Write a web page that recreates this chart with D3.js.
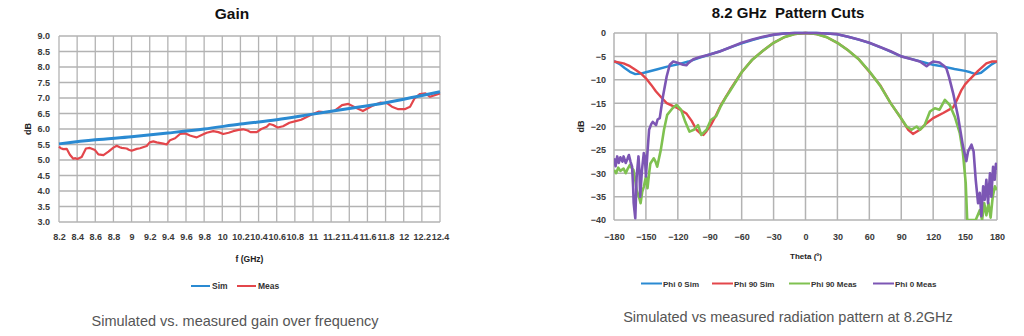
<!DOCTYPE html>
<html>
<head>
<meta charset="utf-8">
<script src="https://cdn.jsdelivr.net/npm/d3@7"></script>
<style>
  html, body { margin: 0; padding: 0; background: #fff; }
  svg { display: block; }
  text { font-family: "Liberation Sans", Arial, sans-serif; }
</style>
</head>
<body>
<svg id="chart" width="1024" height="336"></svg>
<script>
// ---------- Gain vs frequency ----------
const gainXTicks = ["8.2","8.4","8.6","8.8","9","9.2","9.4","9.6","9.8","10","10.2","10.4","10.6","10.8","11","11.2","11.4","11.6","11.8","12","12.2","12.4"];
const gainYTicks = ["3.0","3.5","4.0","4.5","5.0","5.5","6.0","6.5","7.0","7.5","8.0","8.5","9.0"];

const simFreq = [8.2, 8.6, 9.0, 9.4, 9.8, 10.2, 10.6, 11.0, 11.4, 11.8, 12.0, 12.4];
const simGain = [5.52, 5.65, 5.75, 5.87, 6.0, 6.16, 6.3, 6.48, 6.66, 6.85, 6.96, 7.2];

const measFreq = [8.2, 8.22, 8.248, 8.285, 8.32, 8.358, 8.38, 8.402, 8.45, 8.497, 8.54, 8.597, 8.634, 8.69, 8.745, 8.8, 8.836, 8.87, 8.891, 8.946, 8.97, 9.0, 9.057, 9.093, 9.167, 9.2, 9.24, 9.277, 9.35, 9.387, 9.424, 9.48, 9.534, 9.589, 9.644, 9.68, 9.718, 9.773, 9.828, 9.9, 9.957, 10.01, 10.07, 10.12, 10.18, 10.23, 10.28, 10.31, 10.38, 10.43, 10.49, 10.52, 10.56, 10.61, 10.67, 10.74, 10.82, 10.87, 10.93, 10.98, 11.06, 11.15, 11.24, 11.32, 11.39, 11.46, 11.55, 11.65, 11.74, 11.82, 11.87, 11.94, 12.01, 12.07, 12.12, 12.18, 12.24, 12.29, 12.35, 12.4];
const measGain = [5.43, 5.38, 5.35, 5.36, 5.17, 5.04, 5.06, 5.03, 5.10, 5.37, 5.39, 5.32, 5.18, 5.16, 5.27, 5.40, 5.46, 5.41, 5.39, 5.37, 5.33, 5.30, 5.36, 5.38, 5.45, 5.57, 5.60, 5.57, 5.53, 5.50, 5.64, 5.70, 5.84, 5.86, 5.79, 5.76, 5.73, 5.81, 5.88, 5.93, 5.90, 5.84, 5.88, 5.93, 5.97, 5.99, 5.95, 5.90, 5.90, 6.00, 6.07, 6.16, 6.13, 6.05, 6.09, 6.20, 6.26, 6.30, 6.39, 6.46, 6.56, 6.54, 6.59, 6.77, 6.81, 6.70, 6.58, 6.74, 6.85, 6.83, 6.72, 6.64, 6.64, 6.72, 6.99, 7.13, 7.15, 7.04, 7.10, 7.15];

// ---------- 8.2 GHz pattern cuts ----------
const thetaTicks = [-180, -150, -120, -90, -60, -30, 0, 30, 60, 90, 120, 150, 180];
const patternYTicks = [0, -5, -10, -15, -20, -25, -30, -35, -40];

const phi0SimTheta = [-180, -175, -170, -165, -160, -155, -150, -140, -130, -120, -110, -100, -90, -80, -70, -60, -50, -40, -30, -20, -10, 0, 10, 20, 30, 40, 50, 60, 70, 80, 90, 100, 110, 120, 130, 140, 150, 155, 160, 165, 170, 175, 180];
const phi0SimDb = [-6.0, -6.6, -7.5, -8.3, -8.8, -8.7, -8.4, -7.8, -7.2, -6.7, -6.1, -5.3, -4.6, -3.9, -3.0, -2.2, -1.5, -0.9, -0.4, -0.1, 0, 0, 0, -0.1, -0.3, -0.8, -1.4, -2.1, -3.0, -4.0, -5.0, -5.6, -6.2, -6.8, -7.2, -7.7, -8.1, -8.4, -8.8, -8.5, -7.6, -6.7, -6.1];

const phi90SimTheta = [-180, -171, -165, -161.7, -155, -150, -145, -140.5, -135, -130.5, -125, -120, -112, -107, -102.5, -98, -96, -93, -89, -85, -80, -71, -60, -50, -40, -30, -20, -10, 0, 10, 20, 30, 40, 50, 60, 70, 80, 90, 96.6, 101, 107.5, 113.8, 120, 129.4, 138.8, 142, 146.6, 150, 154.4, 162.2, 170, 175, 180];
const phi90SimDb = [-6.1, -6.5, -7.1, -7.6, -8.6, -9.7, -11.1, -12.5, -13.9, -15.0, -15.6, -16.1, -17.2, -18.8, -20.7, -21.6, -21.8, -21.0, -19.7, -18.0, -15.6, -12.2, -8.4, -5.7, -3.8, -2.1, -0.9, -0.2, 0, -0.2, -0.9, -2.1, -3.7, -5.6, -8.3, -11.1, -15.0, -18.3, -20.7, -21.6, -20.7, -19.3, -18.2, -17.1, -15.9, -14.5, -12.2, -11.0, -9.9, -8.1, -6.5, -6.1, -6.1];

const phi90MeasTheta = [-180, -178, -176, -174, -171, -169, -167, -165, -163, -161.7, -160, -158.7, -156, -155, -153.5, -152, -150, -148.5, -147, -145.8, -142.6, -141, -139.4, -136, -133, -130, -125, -121.3, -117, -113, -109, -105, -101, -98, -93, -89, -84, -80, -75, -71, -60, -50, -40, -30, -20, -10, 0, 10, 20, 30, 40, 50, 60, 70, 80, 90, 95, 99.7, 104.4, 107.5, 112, 117, 121.6, 126, 131, 135.6, 140.3, 145, 148, 150.6, 152, 156, 160, 163.8, 166, 168, 170, 172, 174, 176, 178, 180];
const phi90MeasDb = [-29.3, -30.0, -28.8, -29.5, -29.0, -30.0, -29.0, -28.2, -29.0, -29.3, -31.5, -33.6, -35.5, -36.4, -34.0, -32.9, -30.7, -33.2, -30.0, -27.9, -26.8, -27.5, -28.6, -25.0, -20.7, -17.5, -16.1, -15.4, -16.4, -19.0, -21.1, -20.7, -19.7, -21.8, -20.7, -18.6, -17.8, -15.8, -13.8, -12.4, -8.4, -5.7, -3.8, -2.1, -0.9, -0.2, 0, -0.2, -0.9, -2.1, -3.7, -5.6, -8.2, -11.2, -15.0, -18.3, -20.0, -20.7, -20.0, -20.7, -19.7, -16.8, -16.1, -16.4, -14.3, -15.4, -17.9, -21.4, -25.7, -32.1, -40.0, -40.0, -40.0, -37.9, -40.0, -36.4, -39.0, -36.4, -39.5, -35.0, -32.8, -33.6];

const phi0MeasTheta = [-180, -178.5, -177, -175.5, -174, -172, -171, -169, -167.5, -166, -164.5, -163, -162, -161.5, -160, -158.7, -157, -156, -155.4, -153.7, -152, -151, -150, -148.5, -147, -145, -143.6, -140.5, -139, -137, -134, -130.5, -127.6, -124.3, -119.6, -115, -112, -110, -105.5, -100, -90, -80, -70, -60, -50, -40, -30, -20, -10, 0, 10, 20, 30, 40, 50, 60, 70, 80, 90, 100, 107.5, 113.8, 117, 120, 126, 130, 132.5, 135, 138.8, 143.4, 148, 151.2, 152.8, 156, 158, 160, 162.2, 163.8, 165.3, 167, 168.4, 170, 171.6, 173.4, 174.7, 176.3, 177.8, 179, 180];
const phi0MeasDb = [-26.8, -28.5, -26.4, -27.8, -26.6, -27.5, -26.4, -27.8, -27.0, -26.1, -27.5, -28.6, -33.0, -36.4, -39.6, -30.7, -26.4, -30.0, -35.0, -29.3, -25.7, -26.4, -30.7, -25.4, -20.7, -19.5, -19.0, -19.7, -18.5, -18.2, -13.6, -9.3, -6.8, -6.1, -6.4, -6.8, -6.9, -6.4, -5.6, -5.2, -4.6, -3.9, -3.0, -2.1, -1.4, -0.8, -0.35, -0.1, 0, 0, 0, -0.1, -0.25, -0.8, -1.4, -2.1, -3.0, -3.9, -5.0, -5.6, -6.1, -7.1, -6.5, -6.1, -6.3, -7.0, -7.6, -9.5, -12.9, -17.9, -24.2, -27.4, -25.3, -23.9, -25.3, -31.4, -36.4, -34.2, -39.2, -32.8, -35.7, -31.4, -36.4, -30.0, -35.0, -28.6, -31.4, -28.0, -29.3];

const colors = { sim: "#2a8ad2", meas: "#e3464b", green: "#7fc150", purple: "#7c56b4" };

const svg = d3.select("#chart");
const gridColor = "#b3b3b3";
const tickFill = "#3a3a3a";

// ===== Left chart: Gain =====
const L = { x0: 59, x1: 440, y0: 36, y1: 222 };
const gx = d3.scaleLinear().domain([8.2, 12.4]).range([L.x0, L.x1]);
const gy = d3.scaleLinear().domain([3, 9]).range([L.y1, L.y0]);
const gLeft = svg.append("g");

// grid
gLeft.append("g").selectAll("line").data(gainXTicks).join("line")
  .attr("x1", d => gx(+d)).attr("x2", d => gx(+d))
  .attr("y1", L.y0).attr("y2", L.y1)
  .attr("stroke", gridColor).attr("stroke-width", 1.3);
gLeft.append("g").selectAll("line").data(gainYTicks).join("line")
  .attr("x1", L.x0).attr("x2", L.x1)
  .attr("y1", d => gy(+d)).attr("y2", d => gy(+d))
  .attr("stroke", gridColor).attr("stroke-width", 1.3);

// axes (labels only)
const gAxisY = d3.axisLeft(gy).tickValues(gainYTicks.map(Number)).tickFormat(d3.format(".1f")).tickSize(0).tickPadding(9);
gLeft.append("g").attr("transform", `translate(${L.x0},0)`).call(gAxisY)
  .call(g => g.select(".domain").remove())
  .selectAll("text").attr("font-size", 9).attr("font-weight", "bold").attr("fill", tickFill)
  .attr("font-family", "Liberation Sans, Arial, sans-serif");
const gAxisX = d3.axisBottom(gx).tickValues(gainXTicks.map(Number)).tickFormat((d, i) => gainXTicks[i]).tickSize(0).tickPadding(12);
gLeft.append("g").attr("transform", `translate(0,${L.y1})`).call(gAxisX)
  .call(g => g.select(".domain").remove())
  .selectAll("text").attr("font-size", 9).attr("font-weight", "bold").attr("fill", tickFill)
  .attr("font-family", "Liberation Sans, Arial, sans-serif");

gLeft.append("text").attr("x", 232).attr("y", 19).attr("text-anchor", "middle")
  .attr("font-size", 15.5).attr("font-weight", "bold").attr("fill", "#111").text("Gain");
gLeft.append("text").attr("transform", `translate(31,${(L.y0 + L.y1) / 2}) rotate(-90)`)
  .attr("text-anchor", "middle").attr("font-size", 9).attr("font-weight", "bold").attr("fill", "#222").text("dB");
gLeft.append("text").attr("x", (L.x0 + L.x1) / 2).attr("y", 262).attr("text-anchor", "middle")
  .attr("font-size", 8.5).attr("font-weight", "bold").attr("fill", "#222").text("f (GHz)");

const gLine = d3.line().x(d => gx(d[0])).y(d => gy(d[1]));
gLeft.append("path").datum(measFreq.map((f, i) => [f, measGain[i]]))
  .attr("d", gLine).attr("fill", "none").attr("stroke", colors.meas).attr("stroke-width", 2.2).attr("stroke-linejoin", "round");
gLeft.append("path").datum(simFreq.map((f, i) => [f, simGain[i]]))
  .attr("d", gLine.curve(d3.curveMonotoneX)).attr("fill", "none").attr("stroke", colors.sim).attr("stroke-width", 3);

// legend
const gainLegend = [{ name: "Sim", color: colors.sim, x: 191 }, { name: "Meas", color: colors.meas, x: 237 }];
const gl = gLeft.append("g").selectAll("g").data(gainLegend).join("g").attr("transform", d => `translate(${d.x},286)`);
gl.append("line").attr("x1", 0).attr("x2", 19).attr("stroke", d => d.color).attr("stroke-width", 2);
gl.append("text").attr("x", 21).attr("y", 3).attr("font-size", 8.5).attr("font-weight", "bold").attr("fill", "#333").text(d => d.name);

gLeft.append("text").attr("x", 235).attr("y", 326).attr("text-anchor", "middle")
  .attr("font-family", "Lato, sans-serif").attr("font-weight", 300).attr("font-size", 14.5).attr("fill", "#555")
  .text("Simulated vs. measured gain over frequency");

// ===== Right chart: Pattern cuts =====
const R = { x0: 614, x1: 997, y0: 33, y1: 220 };
const px = d3.scaleLinear().domain([-180, 180]).range([R.x0, R.x1]);
const py = d3.scaleLinear().domain([-40, 0]).range([R.y1, R.y0]);
const gRight = svg.append("g");

gRight.append("g").selectAll("line").data(thetaTicks).join("line")
  .attr("x1", d => px(d)).attr("x2", d => px(d)).attr("y1", R.y0).attr("y2", R.y1)
  .attr("stroke", gridColor).attr("stroke-width", 1.5);
gRight.append("g").selectAll("line").data(patternYTicks).join("line")
  .attr("x1", R.x0).attr("x2", R.x1).attr("y1", d => py(d)).attr("y2", d => py(d))
  .attr("stroke", gridColor).attr("stroke-width", 1.5);

gRight.append("g").attr("transform", `translate(${R.x0},0)`)
  .call(d3.axisLeft(py).tickValues(patternYTicks).tickSize(0).tickPadding(8).tickFormat(d3.format("d")))
  .call(g => g.select(".domain").remove())
  .selectAll("text").attr("font-size", 9).attr("font-weight", "bold").attr("fill", tickFill)
  .attr("font-family", "Liberation Sans, Arial, sans-serif");
gRight.append("g").attr("transform", `translate(0,${R.y1})`)
  .call(d3.axisBottom(px).tickValues(thetaTicks).tickSize(0).tickPadding(14).tickFormat(d3.format("d")))
  .call(g => g.select(".domain").remove())
  .selectAll("text").attr("font-size", 9).attr("font-weight", "bold").attr("fill", tickFill)
  .attr("font-family", "Liberation Sans, Arial, sans-serif");

gRight.append("text").attr("x", 788).attr("y", 18).attr("text-anchor", "middle").style("white-space", "pre")
  .attr("font-size", 15).attr("font-weight", "bold").attr("fill", "#111").text("8.2 GHz  Pattern Cuts");
gRight.append("text").attr("transform", `translate(584,${(R.y0 + R.y1) / 2}) rotate(-90)`)
  .attr("text-anchor", "middle").attr("font-size", 9).attr("font-weight", "bold").attr("fill", "#222").text("dB");
gRight.append("text").attr("x", 806).attr("y", 259).attr("text-anchor", "middle")
  .attr("font-size", 8).attr("font-weight", "bold").attr("fill", "#222").text("Theta (º)");

svg.append("clipPath").attr("id", "patClip").append("rect")
  .attr("x", R.x0).attr("y", R.y0 - 2).attr("width", R.x1 - R.x0).attr("height", R.y1 - R.y0 + 2);

const pLine = d3.line().x(d => px(d[0])).y(d => py(d[1]));
const patternSeries = [
  { name: "Phi 0 Sim", theta: phi0SimTheta, db: phi0SimDb, color: colors.sim, w: 2.4 },
  { name: "Phi 90 Sim", theta: phi90SimTheta, db: phi90SimDb, color: colors.meas, w: 2.4 },
  { name: "Phi 90 Meas", theta: phi90MeasTheta, db: phi90MeasDb, color: colors.green, w: 2.6 },
  { name: "Phi 0 Meas", theta: phi0MeasTheta, db: phi0MeasDb, color: colors.purple, w: 2.6 }
];
gRight.append("g").attr("clip-path", "url(#patClip)").selectAll("path").data(patternSeries).join("path")
  .attr("d", s => pLine(s.theta.map((t, i) => [t, s.db[i]])))
  .attr("fill", "none").attr("stroke", s => s.color).attr("stroke-width", s => s.w).attr("stroke-linejoin", "round");

const legendX = [641, 712, 789, 873];
const pl = gRight.append("g").selectAll("g").data(patternSeries).join("g")
  .attr("transform", (d, i) => `translate(${legendX[i]},283.5)`);
pl.append("line").attr("x1", 0).attr("x2", 21).attr("stroke", d => d.color).attr("stroke-width", 2);
pl.append("text").attr("x", 22).attr("y", 3).attr("font-size", 8).attr("font-weight", "bold").attr("fill", "#333").text(d => d.name);

gRight.append("text").attr("x", 788).attr("y", 322).attr("text-anchor", "middle")
  .attr("font-family", "Lato, sans-serif").attr("font-weight", 300).attr("font-size", 14.5).attr("fill", "#555")
  .text("Simulated vs measured radiation pattern at 8.2GHz");
</script>
</body>
</html>
